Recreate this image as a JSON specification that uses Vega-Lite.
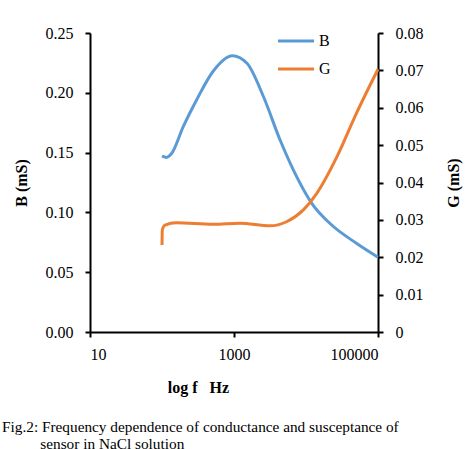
{
  "$schema": "https://vega.github.io/schema/vega-lite/v6.json",
  "autosize": {"type": "none"},
  "padding": {"left": 90, "top": 33, "right": 96, "bottom": 117},
  "width": 288,
  "height": 299,
  "background": "white",
  "config": {
    "font": "Liberation Serif",
    "view": {"stroke": null},
    "axis": {"grid": false, "domainColor": "black", "domainWidth": 2, "tickColor": "black", "tickWidth": 2, "tickSize": 5, "labelFont": "Liberation Serif", "labelFontSize": 16, "labelColor": "black", "titleFont": "Liberation Serif", "titleFontSize": 16, "titleFontWeight": "bold", "titleColor": "black"}
  },
  "title": {
    "text": ["Fig.2: Frequency dependence of conductance and susceptance of", "\u200b\u00a0\u00a0\u00a0\u00a0\u00a0\u00a0\u00a0\u00a0\u00a0\u00a0sensor in NaCl solution"],
    "orient": "bottom",
    "anchor": "start",
    "frame": "group",
    "dx": -88,
    "offset": 25,
    "font": "Liberation Serif",
    "fontSize": 15.3,
    "fontWeight": "normal",
    "color": "black",
    "lineHeight": 17
  },
  "data": {
    "values": [
      {"f": 100, "value": 0.147, "series": "B"},
      {"f": 116, "value": 0.146, "series": "B"},
      {"f": 135, "value": 0.149, "series": "B"},
      {"f": 198, "value": 0.172, "series": "B"},
      {"f": 302, "value": 0.194, "series": "B"},
      {"f": 513, "value": 0.218, "series": "B"},
      {"f": 950, "value": 0.231, "series": "B"},
      {"f": 1514, "value": 0.2247, "series": "B"},
      {"f": 2570, "value": 0.1967, "series": "B"},
      {"f": 4365, "value": 0.1605, "series": "B"},
      {"f": 7413, "value": 0.1299, "series": "B"},
      {"f": 12023, "value": 0.1076, "series": "B"},
      {"f": 21380, "value": 0.0909, "series": "B"},
      {"f": 50119, "value": 0.0742, "series": "B"},
      {"f": 100000, "value": 0.0625, "series": "B"},
      {"f": 100, "value": 0.0233, "series": "G"},
      {"f": 101, "value": 0.0273, "series": "G"},
      {"f": 110, "value": 0.0286, "series": "G"},
      {"f": 158, "value": 0.0292, "series": "G"},
      {"f": 513, "value": 0.0288, "series": "G"},
      {"f": 1202, "value": 0.0291, "series": "G"},
      {"f": 3162, "value": 0.0284, "series": "G"},
      {"f": 5370, "value": 0.0295, "series": "G"},
      {"f": 9120, "value": 0.0326, "series": "G"},
      {"f": 14125, "value": 0.0371, "series": "G"},
      {"f": 26915, "value": 0.0469, "series": "G"},
      {"f": 50119, "value": 0.0585, "series": "G"},
      {"f": 100000, "value": 0.0703, "series": "G"}
    ]
  },
  "encoding": {
    "x": {
      "field": "f", "type": "quantitative",
      "scale": {"type": "log", "domain": [10, 100000]},
      "axis": {"values": [10, 1000, 100000], "format": "d", "labelFont": "Liberation Serif", "labelPadding": 9, "title": "log f\u00a0\u00a0\u00a0Hz", "titlePadding": 17, "titleX": 108}
    },
    "color": {
      "field": "series", "type": "nominal",
      "scale": {"domain": ["B", "G"], "range": ["#5B9BD5", "#ED7D31"]},
      "legend": {"title": null, "orient": "none", "legendX": 186, "legendY": -12, "symbolType": "stroke", "symbolSize": 1300, "symbolStrokeWidth": 3, "labelFont": "Liberation Serif", "labelFontSize": 16, "labelColor": "black", "rowPadding": -6, "labelOffset": 3}
    }
  },
  "layer": [
    {
      "transform": [{"filter": "datum.series == 'B'"}],
      "mark": {"type": "line", "interpolate": "monotone", "strokeWidth": 3},
      "encoding": {
        "y": {
          "field": "value", "type": "quantitative",
          "scale": {"domain": [0, 0.25]},
          "axis": {"orient": "left", "values": [0, 0.05, 0.1, 0.15, 0.2, 0.25], "format": ".2f", "labelFont": "Liberation Serif", "labelPadding": 12, "title": "B (mS)", "titlePadding": 16}
        }
      }
    },
    {
      "transform": [{"filter": "datum.series == 'G'"}],
      "mark": {"type": "line", "interpolate": "monotone", "strokeWidth": 3},
      "encoding": {
        "y": {
          "field": "value", "type": "quantitative",
          "scale": {"domain": [0, 0.08]},
          "axis": {"orient": "right", "values": [0, 0.01, 0.02, 0.03, 0.04, 0.05, 0.06, 0.07, 0.08], "labelExpr": "datum.value == 0 ? '0' : format(datum.value, '.2f')", "labelFont": "Liberation Serif", "labelPadding": 12, "title": "G (mS)", "titleAngle": 270, "titlePadding": 38}
        }
      }
    }
  ],
  "resolve": {"scale": {"y": "independent"}}
}
